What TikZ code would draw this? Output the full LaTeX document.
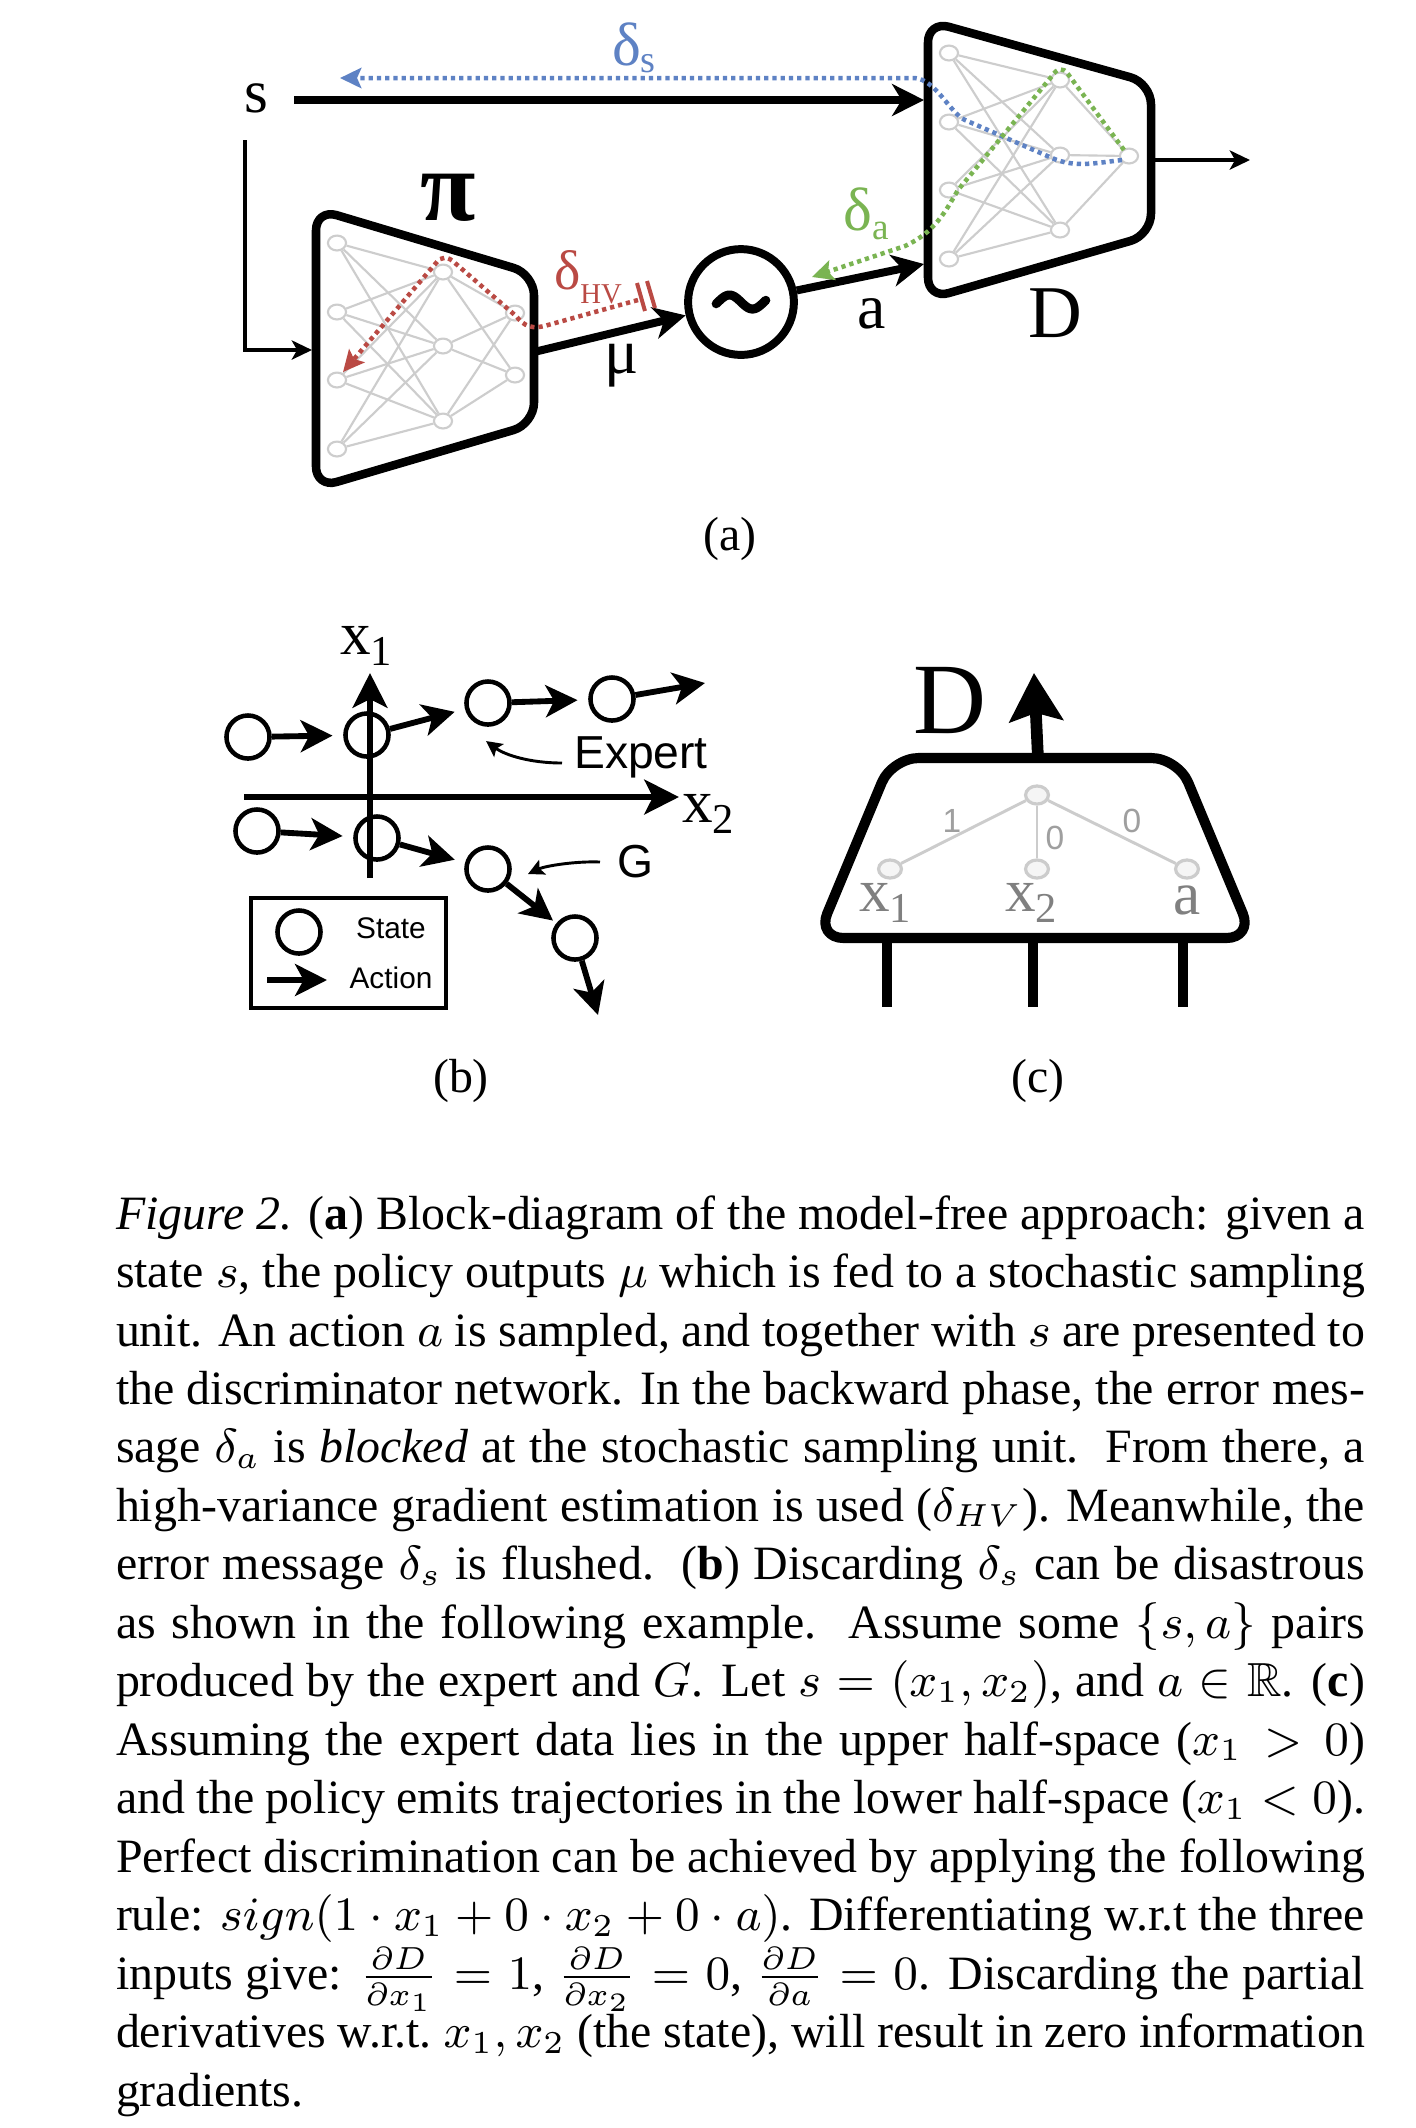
\documentclass[tikz,border=0pt]{standalone}
\usepackage{amssymb}
\usepackage{fontspec}
\setmainfont{Liberation Serif}
\newfontfamily\sansf{Liberation Sans}
\usetikzlibrary{arrows.meta,shapes.geometric}
\definecolor{dblue}{RGB}{94,130,196}
\definecolor{dgreen}{RGB}{122,180,82}
\definecolor{dred}{RGB}{186,74,68}
\definecolor{netgray}{RGB}{205,205,205}
\definecolor{lblgray}{RGB}{128,128,128}
\newcommand\capline[1]{\hbox to 234.88pt{#1}}
\begin{document}
\begin{tikzpicture}[x=0.18806pt,y=-0.18806pt,
  trap/.style={draw, line width=1.6pt, rounded corners=4pt, line join=round},
  bigar/.style={line width=1.5pt, -{Stealth[length=6pt,width=6pt,inset=1.8pt]}},
  thinar/.style={line width=0.75pt, -{Stealth[length=3.8pt,width=3.6pt,inset=1pt]}},
  nn/.style={ellipse, draw=netgray, fill=white, line width=0.4pt, minimum width=3.4pt, minimum height=2.8pt, inner sep=0pt},
  net/.style={draw=netgray, line width=0.4pt},
  dots/.style={line width=0.85pt, dash pattern=on 0.8pt off 0.75pt},
  dtip/.style={-{Stealth[length=4pt,width=3.8pt,inset=0.8pt]}},
  st/.style={circle, draw, line width=0.85pt, minimum size=8.1pt, inner sep=0pt},
  act/.style={line width=1.1pt, -{Stealth[length=6pt,width=6pt,inset=1.6pt]}},
  axarrow/.style={line width=1.3pt, -{Stealth[length=6.5pt,width=6.5pt,inset=1.6pt]}},
  lbl/.style={inner sep=0pt},
  cn/.style={ellipse, draw=gray!40, fill=gray!8, line width=0.6pt, minimum width=4.3pt, minimum height=3.4pt, inner sep=0pt},
  cedge/.style={draw=gray!40, line width=0.55pt},
  pointer/.style={line width=0.55pt, -{Stealth[length=3pt,width=3pt,inset=0.6pt]}},
]
\fill[white] (0,0) rectangle (1415,2128);
\useasboundingbox (0,0) rectangle (1415,2128);

% ---------------- (a) ----------------
\draw[trap] (316,209) -- (534,274) -- (534,424) -- (316,488) -- cycle;
\draw[trap] (928,21) -- (1151,83) -- (1151,235) -- (928,299) -- cycle;

% policy network
\foreach \n/\y in {1/243,2/312,3/380,4/449} \node[nn] (pL\n) at (337,\y) {};
\foreach \n/\y in {1/272,2/346,3/421} \node[nn] (pM\n) at (443,\y) {};
\foreach \n/\y in {1/313,2/375} \node[nn] (pR\n) at (515,\y) {};
\foreach \i in {1,...,4} \foreach \j in {1,2,3} \draw[net] (pL\i) -- (pM\j);
\foreach \i in {1,2,3} \foreach \j in {1,2} \draw[net] (pM\i) -- (pR\j);

% discriminator network
\foreach \n/\y in {1/53,2/122,3/190,4/259} \node[nn] (dL\n) at (949,\y) {};
\foreach \n/\y in {1/80,2/155,3/230} \node[nn] (dM\n) at (1060,\y) {};
\node[nn] (dO) at (1129,156) {};
\foreach \i in {1,...,4} \foreach \j in {1,2,3} \draw[net] (dL\i) -- (dM\j);
\foreach \i in {1,2,3} \draw[net] (dM\i) -- (dO);

% labels
\node[lbl, font=\fontsize{11.5}{12}\selectfont] (slab) at (256,98) {s};
\node[lbl, font=\fontsize{19}{20}\selectfont\bfseries] (pilab) at (448,198) {π};
\node[lbl, font=\fontsize{14}{15}\selectfont] (dlab) at (1055,313) {D};
\node[lbl, font=\fontsize{12}{13}\selectfont] (mulab) at (622,366) {μ};
\node[lbl, font=\fontsize{12}{13}\selectfont] (alab) at (872,314) {a};

% connectors
\coordinate (sA) at (294,100);
\coordinate (dinS) at (924,100);
\coordinate (sB) at (245,140);
\coordinate (piin) at (312,350);
\draw[thinar] (sB) |- (piin);
\draw[bigar] (sA) -- (dinS);

\node[circle, draw, line width=1.5pt, minimum size=19.9pt, inner sep=0pt] (samp) at (741,302) {};
\draw[line width=1.7pt, line cap=round] plot[domain=-1.08:1.08, smooth, samples=40] ({741+23*\x},{302+7*sin(\x*180)});

\coordinate (piout) at (534,352);
\draw[bigar] (piout) -- (samp);
\coordinate (dinA) at (924,264);
\draw[bigar] (samp) -- (dinA);
\coordinate (dout) at (1151,160);
\coordinate (dend) at (1250,160);
\draw[thinar] (dout) -- (dend);

% error messages
\draw[dots, dblue, dtip] (1122,160) .. controls (1095,163) and (1075,168) .. (1052,158) -- (965,120) .. controls (950,113) and (936,80) .. (915,78) -- (340,78);
\draw[dots, dgreen, dtip] (1124,150) -- (1068,74) .. controls (1063,67) and (1057,68) .. (1052,76) -- (958,190) .. controls (945,212) and (935,232) .. (905,246) -- (812,277);
\draw[dots, dred, dtip] (638,300) -- (548,325) .. controls (532,330) and (524,326) .. (516,316) -- (455,263) .. controls (448,256) and (441,256) .. (436,263) -- (343,372);
\draw[dred, line width=0.75pt] (637,283) -- (645,311);
\draw[dred, line width=0.75pt] (647,281) -- (655,308);

\node[lbl, text=dblue, font=\fontsize{11.5}{12}\selectfont] (dslab) at (634,48) {δ\lower1.3pt\hbox{\fontsize{7.2}{8}\selectfont s}};
\node[lbl, text=dred, font=\fontsize{10.5}{11}\selectfont] (dhvlab) at (588,277) {δ\lower2.6pt\hbox{\fontsize{5.4}{6}\selectfont HV}};
\node[lbl, text=dgreen, font=\fontsize{11.5}{12}\selectfont] (dalab) at (866,214) {δ\lower1.6pt\hbox{\fontsize{7}{8}\selectfont a}};

\node[lbl, font=\fontsize{9}{11}\selectfont] (capa) at (730,539) {(a)};

% ---------------- (b) ----------------
\coordinate (ax1) at (370,878);
\coordinate (ax1t) at (370,673);
\coordinate (ax2) at (244,797);
\coordinate (ax2t) at (679,797);
\draw[axarrow] (ax1) -- (ax1t);
\draw[axarrow] (ax2) -- (ax2t);
\node[lbl, font=\fontsize{11.5}{12}\selectfont] (x1lab) at (366,646) {x\lower2.2pt\hbox{\fontsize{8}{9}\selectfont 1}};
\node[lbl, font=\fontsize{11.5}{12}\selectfont] (x2lab) at (708,814) {x\lower2.2pt\hbox{\fontsize{8}{9}\selectfont 2}};

\node[st] (U1) at (248,737) {};
\node[st] (U2) at (367,735) {};
\node[st] (U3) at (488,703) {};
\node[st] (U4) at (612,699) {};
\coordinate (U5) at (705,683);
\node[st] (L1) at (257,831) {};
\node[st] (L2) at (377,838) {};
\node[st] (L3) at (488,869) {};
\node[st] (L4) at (575,938) {};
\coordinate (L5) at (598,1015);

\draw[act, shorten >=2pt] (U1) -- (U2);
\draw[act, shorten >=2pt] (U2) -- (U3);
\draw[act, shorten >=2pt] (U3) -- (U4);
\draw[act] (U4) -- (U5);
\draw[act, shorten >=2pt] (L1) -- (L2);
\draw[act, shorten >=2pt] (L2) -- (L3);
\draw[act, shorten >=0.8pt] (L3) -- (L4);
\draw[act] (L4) -- (L5);

\node[lbl, font=\sansf\fontsize{8.7}{10}\selectfont] (expert) at (641,757) {Expert};
\coordinate (eA) at (562,763);
\coordinate (eB) at (486,741);
\draw[pointer] (eA) .. controls (530,763) and (505,755) .. (eB);
\node[lbl, font=\sansf\fontsize{8.7}{10}\selectfont] (glab) at (635,862) {G};
\coordinate (gA) at (600,862);
\coordinate (gB) at (528,874);
\draw[pointer] (gA) .. controls (575,861) and (545,866) .. (gB);

\draw[line width=0.75pt] (251,898) rectangle (446,1008);
\node[circle, draw, line width=0.85pt, minimum size=8.1pt, inner sep=0pt] (legst) at (299,932) {};
\coordinate (legA) at (267,980);
\coordinate (legB) at (327,980);
\draw[act] (legA) -- (legB);
\node[lbl, font=\sansf\fontsize{5.6}{7}\selectfont] (statelab) at (391,928) {State};
\node[lbl, font=\sansf\fontsize{5.6}{7}\selectfont] (actionlab) at (391,978) {Action};

\node[lbl, font=\fontsize{9}{11}\selectfont] (capb) at (461,1081) {(b)};

% ---------------- (c) ----------------
\draw[line width=1.9pt, rounded corners=5pt, line join=round] (892,758) -- (1178,758) -- (1253,938) -- (817,938) -- cycle;
\coordinate (cout) at (1038,758);
\coordinate (couttip) at (1034,673);
\draw[line width=2.2pt, -{Stealth[length=9pt,width=10pt,inset=1.5pt]}] (cout) -- (couttip);
\node[lbl, font=\fontsize{19}{20}\selectfont] (cdlab) at (950,700) {D};

\node[cn] (T) at (1037,795) {};
\node[cn] (B1) at (890,869) {};
\node[cn] (B2) at (1037,869) {};
\node[cn] (B3) at (1187,869) {};
\draw[cedge] (T) -- (B1);
\draw[cedge] (T) -- (B2);
\draw[cedge] (T) -- (B3);
\node[lbl, text=gray!75, font=\sansf\fontsize{6.3}{7}\selectfont] (w1) at (952,821) {1};
\node[lbl, text=gray!75, font=\sansf\fontsize{6.3}{7}\selectfont] (w2) at (1055,838) {0};
\node[lbl, text=gray!75, font=\sansf\fontsize{6.3}{7}\selectfont] (w3) at (1132,821) {0};
\node[lbl, text=lblgray, font=\fontsize{11.5}{12}\selectfont] (cx1) at (885,903) {x\lower2.2pt\hbox{\fontsize{8}{9}\selectfont 1}};
\node[lbl, text=lblgray, font=\fontsize{11.5}{12}\selectfont] (cx2) at (1031,903) {x\lower2.2pt\hbox{\fontsize{8}{9}\selectfont 2}};
\node[lbl, text=lblgray, font=\fontsize{11.5}{12}\selectfont] (ca) at (1187,900) {a};
\foreach \xx in {887,1033,1183} \draw[line width=1.9pt] (\xx,938) -- (\xx,1007);

\node[lbl, font=\fontsize{9}{11}\selectfont] (capc) at (1038,1081) {(c)};

% ---------------- caption ----------------
\node[anchor=base west, inner sep=0pt, font=\fontsize{9}{11}\selectfont] (caption) at (115,1229) {\vtop{\baselineskip=11pt \lineskiplimit=-100pt \hsize=234.88pt
\capline{\textit{Figure 2.} (\textbf{a}) Block-diagram of the model-free approach: given a}
\capline{state $s$, the policy outputs $\mu$ which is fed to a stochastic sampling}
\capline{unit. An action $a$ is sampled, and together with $s$ are presented to}
\capline{the discriminator network. In the backward phase, the error mes-}
\capline{sage $\delta_a$ is \emph{blocked} at the stochastic sampling unit.\ \ From there, a}
\capline{high-variance gradient estimation is used ($\delta_{HV}$). Meanwhile, the}
\capline{error message $\delta_s$ is flushed.\ \ (\textbf{b}) Discarding $\delta_s$ can be disastrous}
\capline{as shown in the following example.\ \ Assume some $\{s,a\}$ pairs}
\capline{produced by the expert and $G$. Let $s=(x_1,x_2)$, and $a\in\mathbb{R}$. (\textbf{c})}
\capline{Assuming the expert data lies in the upper half-space ($x_1>0$)}
\capline{and the policy emits trajectories in the lower half-space ($x_1<0$).}
\capline{Perfect discrimination can be achieved by applying the following}
\capline{rule: $sign(1\cdot x_1+0\cdot x_2+0\cdot a)$. Differentiating w.r.t the three}
\capline{inputs give: $\frac{\partial D}{\partial x_1}=1$, $\frac{\partial D}{\partial x_2}=0$, $\frac{\partial D}{\partial a}=0$. Discarding the partial}
\capline{derivatives w.r.t.\ $x_1,x_2$ (the state), will result in zero information}
\hbox{gradients.}}};
\end{tikzpicture}
\end{document}
